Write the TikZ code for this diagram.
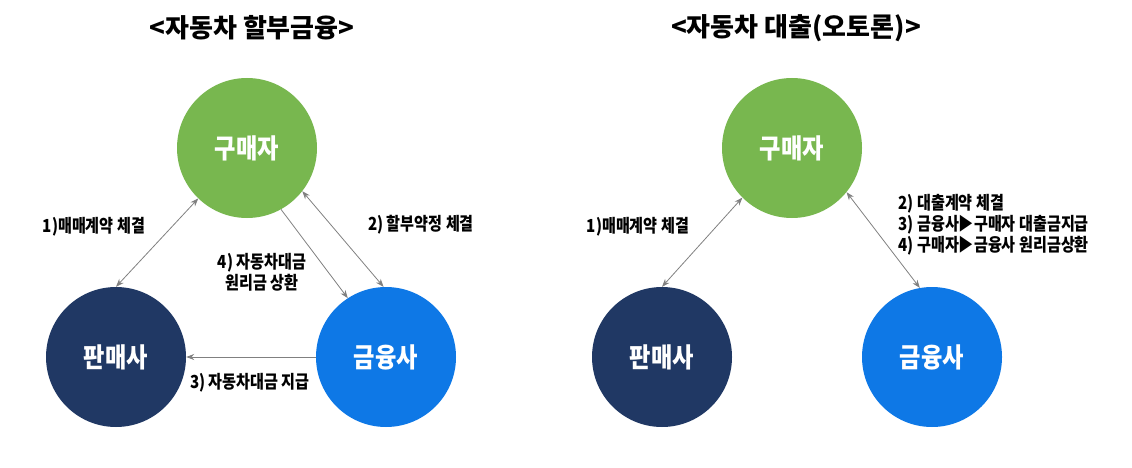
\documentclass[tikz,border=0pt]{standalone}
\usepackage{fontspec}
\setmainfont{Noto Sans CJK KR}
\newfontfamily\schmal{Noto Sans CJK KR}[FakeStretch=0.86]
\newfontfamily\enger{Noto Sans CJK KR}[FakeStretch=0.84]
\usetikzlibrary{calc}
\usetikzlibrary{arrows.meta,positioning}
\definecolor{gruen}{HTML}{78B74F}
\definecolor{marine}{HTML}{203864}
\definecolor{blau}{HTML}{0E78E6}
\definecolor{grau}{HTML}{808080}
\tikzset{
    %Define standard arrow tip
    >={Stealth[length=8pt,width=6pt]},
    %Define style for circles
    kreis/.style={
           circle,
           minimum size=140pt,
           inner sep=0pt,
           text=white,
           font=\schmal\bfseries\fontsize{27}{30}\selectfont},
    % Define arrow style
    pfeil/.style={
           draw=grau,
           line width=0.8pt},
    % Small labels
    notiz/.style={
           font=\enger\bfseries\fontsize{18}{21}\selectfont},
    titel/.style={
           font=\bfseries\fontsize{26}{29}\selectfont},
}
\begin{document}
\begin{tikzpicture}[x=1pt,y=-1pt]
\useasboundingbox (0,0) rectangle (1132,468);
\coordinate (kaeuferL) at (247,148);
\coordinate (haendlerL) at (116,357);
\coordinate (bankL) at (386,357);
\coordinate (kaeuferR) at (792,148);
\coordinate (haendlerR) at (662,357);
\coordinate (bankR) at (932,357);

% Linke Seite
\node[titel] (titelL) at (252,28) {<자동차 할부금융>};
\node[kreis, fill=gruen] (K1) at (kaeuferL) {구매자};
\node[kreis, fill=marine] (H1) at (haendlerL) {판매사};
\node[kreis, fill=blau] (B1) at (bankL) {금융사};

\draw[pfeil,<->] (K1.226) -- (H1.90);
\draw[pfeil,<->] (K1.322) -- (B1.92);
\draw[pfeil,->] (K1.299) -- (B1.123);
\draw[pfeil,->] (B1.180) -- (H1.0);

\node[notiz] (n1L) at ($ (kaeuferL) + (-153,79) $) {1)매매계약 체결};
\node[notiz] (n2L) at ($ (kaeuferL) + (174,77) $) {2) 할부약정 체결};
\node[notiz,align=center] (n4L) at ($ (kaeuferL) + (15,124) $) {4) 자동차대금\\원리금 상환};
\node[notiz] (n3L) at ($ (bankL) + (-136,26) $) {3) 자동차대금 지급};

% Rechte Seite
\node[titel] (titelR) at (796,28) {<자동차 대출(오토론)>};
\node[kreis, fill=gruen] (K2) at (kaeuferR) {구매자};
\node[kreis, fill=marine] (H2) at (haendlerR) {판매사};
\node[kreis, fill=blau] (B2) at (bankR) {금융사};

\draw[pfeil,<->] (K2.225) -- (H2.90);
\draw[pfeil,<->] (K2.321) -- (B2.100);

\node[notiz] (n1R) at ($ (kaeuferR) + (-154,79) $) {1)매매계약 체결};
\node[notiz,align=left,anchor=west] (n2R) at ($ (kaeuferR) + (103,77) $)
{2) 대출계약 체결\\3) 금융사▶구매자 대출금지급\\4) 구매자▶금융사 원리금상환};
\end{tikzpicture}
\end{document}
